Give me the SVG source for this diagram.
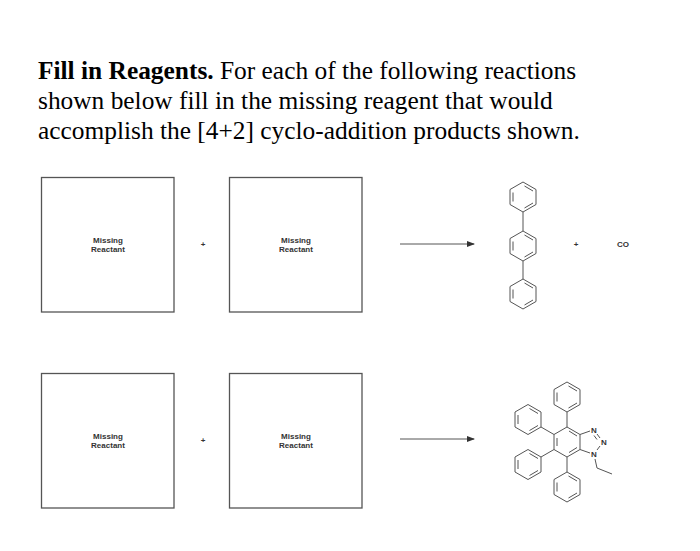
<svg xmlns="http://www.w3.org/2000/svg" width="700" height="551" viewBox="0 0 700 551">
<style>
.t{font-family:"Liberation Serif",serif;font-size:25.4px;fill:#000}
.box{fill:none;stroke:#555;stroke-width:1.3}
.ml{font-family:"Liberation Sans",Arial,sans-serif;font-size:8px;font-weight:bold;fill:#333;text-anchor:middle}
.b{fill:none;stroke:#555;stroke-width:1}
.s{font-family:"Liberation Sans",Arial,sans-serif;font-size:8px;font-weight:bold;fill:#333;text-anchor:middle}
</style>
<defs>
<marker id="ah" markerWidth="8" markerHeight="6" refX="7" refY="3" orient="auto" markerUnits="userSpaceOnUse"><path d="M0,0L8,3L0,6z" fill="#333"/></marker>
<g id="ph"><path class="b" d="M0,-15L13,-7.5L13,7.5L0,15L-13,7.5L-13,-7.5Z M1.5,-11L10,-6 M10,6L1.5,11 M-10,4.5L-10,-4.5"/></g>
</defs>
<rect width="700" height="551" fill="#fff"/>
<text class="t" x="38" y="79"><tspan font-weight="bold">Fill in Reagents.</tspan> For each of the following reactions</text>
<text class="t" x="38" y="109">shown below fill in the missing reagent that would</text>
<text class="t" x="38" y="139">accomplish the [4+2] cyclo-addition products shown.</text>
<g id="box1"><rect class="box" x="41.5" y="177.5" width="132.5" height="134.5"/><text class="ml" x="108" y="243">Missing</text><text class="ml" x="108" y="252">Reactant</text></g>
<g id="box2"><rect class="box" x="229.5" y="177.5" width="132.5" height="134.5"/><text class="ml" x="296" y="243">Missing</text><text class="ml" x="296" y="252">Reactant</text></g>
<g id="box3"><rect class="box" x="41.5" y="373.5" width="132.5" height="134.5"/><text class="ml" x="108" y="439">Missing</text><text class="ml" x="108" y="448">Reactant</text></g>
<g id="box4"><rect class="box" x="229.5" y="373.5" width="132.5" height="134.5"/><text class="ml" x="296" y="439">Missing</text><text class="ml" x="296" y="448">Reactant</text></g>
<text class="s" x="203" y="247">+</text>
<text class="s" x="203" y="443">+</text>
<text class="s" x="576" y="247">+</text>
<text class="s" x="623" y="247">CO</text>
<g id="connectors">
<line x1="400" y1="244" x2="474" y2="244" stroke="#555" stroke-width="1" marker-end="url(#ah)"/>
<line x1="400" y1="439" x2="474" y2="439" stroke="#555" stroke-width="1" marker-end="url(#ah)"/>
</g>
<g id="terphenyl">
<use href="#ph" x="523" y="197"/>
<use href="#ph" x="523" y="246"/>
<use href="#ph" x="523" y="294"/>
<path class="b" d="M523,212L523,231M523,261L523,279"/>
</g>
<g id="benzotriazole">
<path class="b" d="M567,427L580,434.5L580,449.5L567,457L554,449.5L554,434.5Z M569,431L577,436 M577,447.5L569,452.5 M557,446L557,438"/>
<use href="#ph" x="567" y="397"/>
<use href="#ph" x="528" y="419.5"/>
<use href="#ph" x="528" y="464.5"/>
<use href="#ph" x="567" y="487"/>
<path class="b" d="M567,427L567,412 M554,434.5L541,427 M554,449.5L541,457 M567,457L567,472"/>
<path class="b" d="M580,434.5L590,431 M597,434L600,438 M594,435.5L597,439.5 M600,446L597,450 M590,453L580,449.5 M595,459L597,468L612,474"/>
<text class="s" x="594" y="433">N</text>
<text class="s" x="604" y="445">N</text>
<text class="s" x="594" y="457">N</text>
</g>
</svg>
